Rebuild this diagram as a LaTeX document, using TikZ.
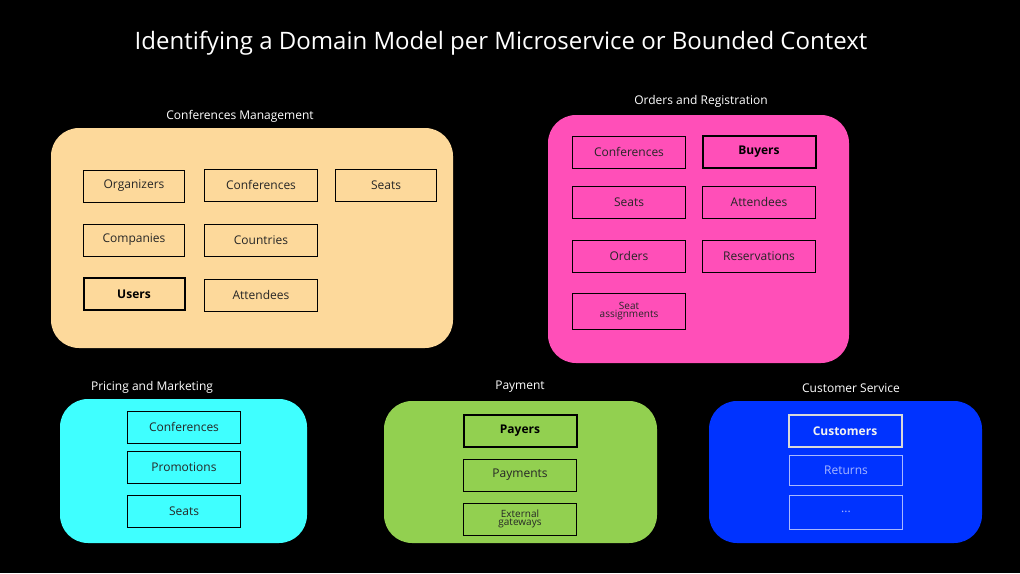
\documentclass[tikz,border=0pt]{standalone}
\usepackage{fontspec}
\setmainfont{Open Sans}
\definecolor{cmfill}{HTML}{FDD99B}
\definecolor{orfill}{HTML}{FF4FB8}
\definecolor{pmfill}{HTML}{3FFFFF}
\definecolor{payfill}{HTML}{92D050}
\definecolor{csfill}{HTML}{0033FF}
\definecolor{csline}{HTML}{A8B8FF}
\tikzset{
  ctx/.style={rounded corners=28pt},
  ctxlabel/.style={text=white,font=\fontsize{12}{14}\selectfont},
  ent/.style={draw=black,line width=0.6pt,minimum width=113pt,minimum height=32pt,
    inner sep=0pt,font=\fontsize{12}{14}\selectfont,text=black!85},
  root/.style={ent,line width=2pt,font=\fontsize{12}{14}\selectfont\bfseries,text=black},
  small/.style={font=\fontsize{10}{11}\selectfont,align=center,text width=100pt},
  csent/.style={ent,draw=csline,text=csline},
}
\begin{document}
\begin{tikzpicture}[x=1pt,y=-1pt]
\useasboundingbox[fill=black] (0,0) rectangle (1020,573);

% Title
\node[text=white,font=\fontsize{24}{28}\selectfont\addfontfeature{FakeBold=0}] (title) at (501,43) {Identifying a Domain Model per Microservice or Bounded Context};

% Conferences Management
\fill[cmfill,ctx] (51,128) rectangle (453,348);
\node[ctxlabel] (cmlabel) at (240,116) {Conferences Management};
\node[ent,minimum width=101pt] (cmorg) at (134,186) {Organizers};
\node[ent] (cmconf) at (261,185) {Conferences};
\node[ent,minimum width=101pt] (cmseats) at (386,185) {Seats};
\node[ent,minimum width=101pt] (cmcomp) at (134,240) {Companies};
\node[ent] (cmcountry) at (261,240) {Countries};
\node[root,minimum width=101pt] (cmusers) at (134,294) {Users};
\node[ent] (cmatt) at (261,295) {Attendees};

% Orders and Registration
\fill[orfill,ctx] (548,115) rectangle (849,363);
\node[ctxlabel] (orlabel) at (701,101) {Orders and Registration};
\node[ent] (orconf) at (629,152) {Conferences};
\node[root] (orbuyers) at (759,152) {Buyers};
\node[ent] (orseats) at (629,202) {Seats};
\node[ent] (oratt) at (759,202) {Attendees};
\node[ent] (ororders) at (629,256) {Orders};
\node[ent] (orres) at (759,256) {Reservations};
\node[ent,small,minimum height=36pt] (orseatas) at (629,311) {Seat\\[-3pt]assignments};

% Pricing and Marketing
\fill[pmfill,ctx] (60,399) rectangle (307,543);
\node[ctxlabel] (pmlabel) at (152,387) {Pricing and Marketing};
\node[ent] (pmconf) at (184,427) {Conferences};
\node[ent] (pmpromo) at (184,467) {Promotions};
\node[ent] (pmseats) at (184,511) {Seats};

% Payment
\fill[payfill,ctx] (384,401) rectangle (657,543);
\node[ctxlabel] (paylabel) at (520,387) {Payment};
\node[root] (payers) at (520,431) {Payers};
\node[ent] (payments) at (520,475) {Payments};
\node[ent,small,minimum height=32pt] (paygw) at (520,519) {External\\[-3pt]gateways};

% Customer Service
\fill[csfill,ctx] (709,401) rectangle (982,543);
\node[ctxlabel] (cslabel) at (851,388) {Customer Service};
\node[root,draw=black!15,text=black!5] (cscust) at (845,431) {Customers};
\node[csent,minimum height=30pt] (csret) at (846,470) {Returns};
\node[csent,minimum height=34pt] (csmore) at (846,512) {...};

\end{tikzpicture}
\end{document}
